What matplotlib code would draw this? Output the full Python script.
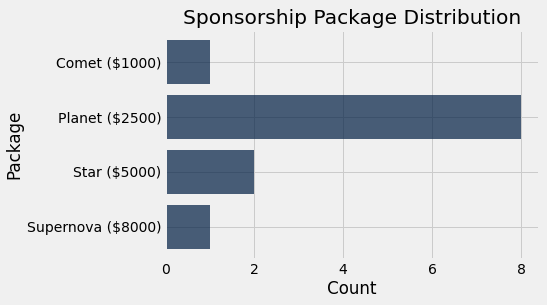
import matplotlib
matplotlib.use("Agg")
import matplotlib.pyplot as plt

plt.style.use("fivethirtyeight")

packages = ["Comet ($1000)", "Planet ($2500)", "Star ($5000)", "Supernova ($8000)"]
counts = [1, 8, 2, 1]

BAR = "#001e42"

fig = plt.figure(figsize=(547 / 72, 305 / 72), dpi=72)
fig.patch.set_facecolor("#f0f0f0")
ax = fig.add_axes([165 / 547, 1 - 259 / 305, 374 / 547, 229 / 305])

pos = list(range(len(packages)))
ax.barh(pos, counts, height=0.8, color=BAR, alpha=0.7)
ax.set_yticks(pos)
ax.set_yticklabels(packages)
ax.invert_yaxis()
ax.set_xlabel("Count")
ax.set_ylabel("Package")
ax.set_title("Sponsorship Package Distribution")

fig.savefig("out.png", dpi=72, facecolor=fig.get_facecolor())
